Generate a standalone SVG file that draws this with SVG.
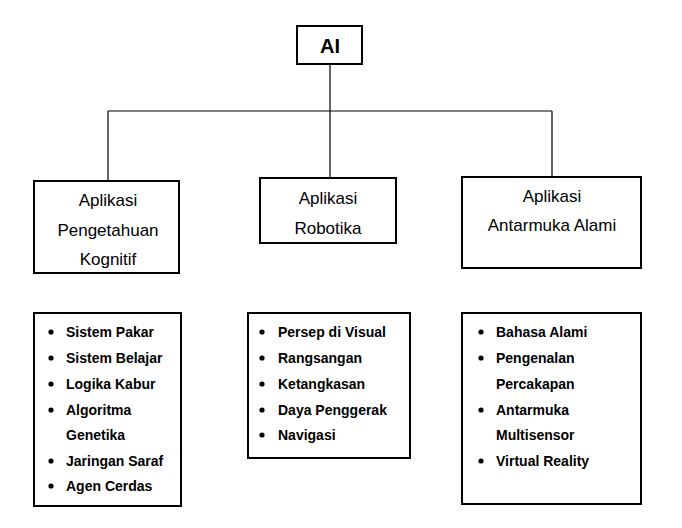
<svg xmlns="http://www.w3.org/2000/svg" width="682" height="528" viewBox="0 0 682 528">
<style>
.b{fill:#fff;stroke:#000;stroke-width:2}
.t{font-family:"Liberation Sans",Arial,sans-serif;font-size:17px;text-anchor:middle;fill:#000}
.l{font-family:"Liberation Sans",Arial,sans-serif;font-size:14px;font-weight:bold;fill:#000}
.c{stroke:#000;stroke-width:1.2;fill:none}
</style>
<rect width="682" height="528" fill="#fff"/>
<g id="connectors">
<path class="c" d="M330 64V111M108 111H552M108 111V181M330 111V178M552 111V177"/>
</g>
<g id="ai"><rect class="b" x="297" y="26" width="65" height="38"/><text class="t" x="330" y="53" style="font-size:20px;font-weight:bold">AI</text></g>
<g id="kognitif"><rect class="b" x="34" y="181" width="145" height="92"/>
<text class="t" x="108" y="206">Aplikasi</text><text class="t" x="108" y="236">Pengetahuan</text><text class="t" x="108" y="265">Kognitif</text></g>
<g id="robotika"><rect class="b" x="260" y="178" width="136" height="65"/>
<text class="t" x="328" y="204">Aplikasi</text><text class="t" x="328" y="234">Robotika</text></g>
<g id="antarmuka"><rect class="b" x="462" y="177" width="179" height="91"/>
<text class="t" x="552" y="202">Aplikasi</text><text class="t" x="552" y="231">Antarmuka Alami</text></g>
<g id="list1"><rect class="b" x="34" y="313" width="147" height="193"/>
<g fill="#000"><circle cx="51" cy="332" r="2.6"/><circle cx="51" cy="358" r="2.6"/><circle cx="51" cy="384" r="2.6"/><circle cx="51" cy="410" r="2.6"/><circle cx="51" cy="461" r="2.6"/><circle cx="51" cy="486" r="2.6"/></g>
<text class="l" x="66" y="337">Sistem Pakar</text><text class="l" x="66" y="363">Sistem Belajar</text><text class="l" x="66" y="389">Logika Kabur</text><text class="l" x="66" y="415">Algoritma</text><text class="l" x="66" y="440">Genetika</text><text class="l" x="66" y="466">Jaringan Saraf</text><text class="l" x="66" y="491">Agen Cerdas</text></g>
<g id="list2"><rect class="b" x="248" y="313" width="162" height="145"/>
<g fill="#000"><circle cx="262" cy="332" r="2.6"/><circle cx="262" cy="358" r="2.6"/><circle cx="262" cy="384" r="2.6"/><circle cx="262" cy="410" r="2.6"/><circle cx="262" cy="435" r="2.6"/></g>
<text class="l" x="278" y="337">Persep di Visual</text><text class="l" x="278" y="363">Rangsangan</text><text class="l" x="278" y="389">Ketangkasan</text><text class="l" x="278" y="415">Daya Penggerak</text><text class="l" x="278" y="440">Navigasi</text></g>
<g id="list3"><rect class="b" x="462" y="313" width="179" height="191"/>
<g fill="#000"><circle cx="481" cy="332" r="2.6"/><circle cx="481" cy="358" r="2.6"/><circle cx="481" cy="410" r="2.6"/><circle cx="481" cy="461" r="2.6"/></g>
<text class="l" x="496" y="337">Bahasa Alami</text><text class="l" x="496" y="363">Pengenalan</text><text class="l" x="496" y="389">Percakapan</text><text class="l" x="496" y="415">Antarmuka</text><text class="l" x="496" y="440">Multisensor</text><text class="l" x="496" y="466">Virtual Reality</text></g>
</svg>
